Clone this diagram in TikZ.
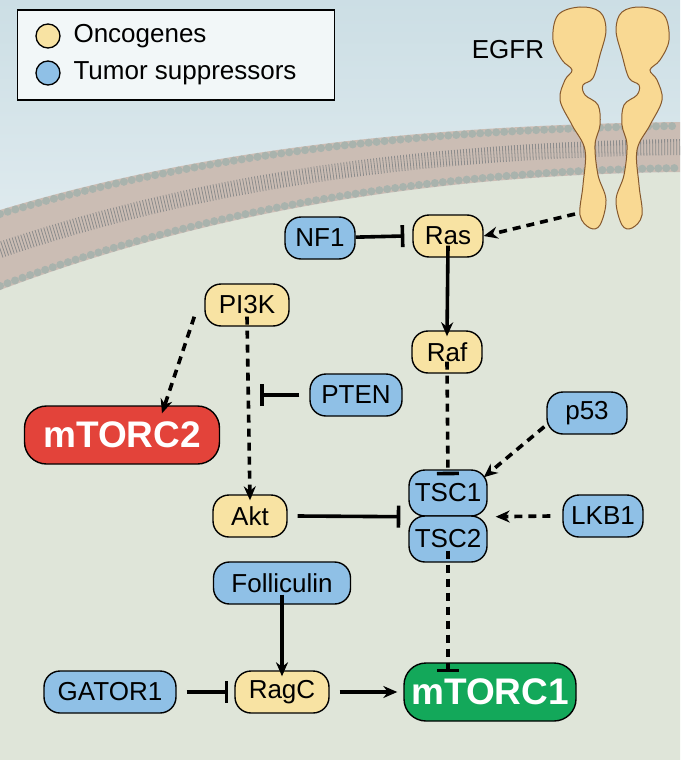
\documentclass[tikz,border=0pt]{standalone}
\usepackage{fontspec}
\setmainfont{Liberation Sans}
\usetikzlibrary{arrows.meta}
\definecolor{onc}{HTML}{F8E3A3}
\definecolor{sup}{HTML}{8FC0E6}
\definecolor{mt2}{HTML}{E3433A}
\definecolor{mt1}{HTML}{13A85A}
\definecolor{cell}{HTML}{DFE5D9}
\definecolor{sky}{HTML}{BFD6DE}
\definecolor{memb}{HTML}{CBBDB4}
\definecolor{bead}{HTML}{A9B3AD}
\begin{document}
\begin{tikzpicture}[x=1pt,y=-1pt,
  box/.style={draw=black,line width=1.4pt,rounded corners=16pt,minimum height=42pt,inner sep=3pt,font=\fontsize{26}{28}\selectfont},
  o/.style={box,fill=onc},
  s/.style={box,fill=sup},
  big/.style={draw=black,line width=1.4pt,rounded corners=22pt,minimum height=58pt,text=white,font=\bfseries\fontsize{37}{39}\selectfont},
  act/.style={line width=3.6pt,-{Stealth[length=14pt,width=12pt]}},
  actd/.style={act,dash pattern=on 8pt off 6pt},
  inh/.style={line width=3.6pt,-{Bar[width=22pt,line width=3.6pt]}},
  inhd/.style={inh,dash pattern=on 8pt off 6pt}]
\useasboundingbox (0,0) rectangle (680,760);
% background
\shade[top color=sky!80!white,bottom color=sky!40!white] (0,0) rectangle (680,300);
\fill[cell] (0,290) .. controls (200,215) and (420,175) .. (680,172) -- (680,760) -- (0,760) -- cycle;
% membrane
\fill[memb] (0,210) .. controls (200,150) and (420,125) .. (680,122) -- (680,172) .. controls (420,175) and (200,215) .. (0,290) -- cycle;
\draw[black!45,dash pattern=on 0.8pt off 2.2pt,line width=16pt] (0,250) .. controls (200,182) and (420,150) .. (680,147);
\draw[bead,line width=8pt,line cap=round,dash pattern=on 0pt off 8pt] (0,214) .. controls (200,154) and (420,129) .. (680,126);
\draw[bead,line width=8pt,line cap=round,dash pattern=on 0pt off 8pt] (0,286) .. controls (200,211) and (420,171) .. (680,168);
% EGFR
\foreach \s/\o in {1/0,-1/1222}{
\begin{scope}[xshift=\o pt,xscale=\s]
\fill[onc!90!orange,draw=brown!70!black,line width=1pt] plot[smooth cycle,tension=0.6] coordinates {(580,7) (600,12) (606,30) (600,55) (593,78) (583,85) (585,95) (598,105) (600,125) (595,145) (598,175) (606,200) (600,225) (590,228) (580,215) (583,185) (585,150) (572,125) (560,100) (565,80) (572,70) (562,60) (553,40) (558,15)};
\end{scope}}
\node[font=\fontsize{26}{28}\selectfont] (egfr) at (508,50) {EGFR};
\coordinate (eg) at (575,214);
% legend
\node[draw=black,line width=1.5pt,fill=white!80!sky,minimum width=317pt,minimum height=90pt] (leg) at (176,55) {};
\node[draw=black,fill=onc,circle,minimum size=24pt,line width=1.3pt] (l1) at (48,36) {};
\node[draw=black,fill=sup,circle,minimum size=24pt,line width=1.3pt] (l2) at (48,73) {};
\node[anchor=west,font=\fontsize{26}{28}\selectfont] (t1) at (70,36) {Oncogenes};
\node[anchor=west,font=\fontsize{26}{28}\selectfont] (t2) at (70,73) {Tumor suppressors};
% nodes
\node[o,minimum width=70pt] (ras) at (448,236) {Ras};
\node[s,minimum width=70pt] (nf1) at (320,238) {NF1};
\node[o,minimum width=84pt] (pi3k) at (247,305) {PI3K};
\node[o,minimum width=70pt] (raf) at (447,352) {Raf};
\node[s,minimum width=92pt] (pten) at (356,395) {PTEN};
\node[big,fill=mt2,minimum width=195pt] (m2) at (122,435) {mTORC2};
\node[s,minimum width=80pt] (p53) at (587,413) {p53};
\node[s,minimum width=78pt,minimum height=46pt] (tsc1) at (448,493) {TSC1};
\node[s,minimum width=78pt,minimum height=46pt] (tsc2) at (448,539) {TSC2};
\node[o,minimum width=74pt] (akt) at (250,516) {Akt};
\node[s,minimum width=80pt] (lkb1) at (603,516) {LKB1};
\node[s,minimum width=137pt] (fol) at (282,583) {Folliculin};
\node[s,minimum width=132pt] (gat) at (110,692) {GATOR1};
\node[o,minimum width=94pt] (ragc) at (282,692) {RagC};
\node[big,fill=mt1,minimum width=172pt] (m1) at (490,692) {mTORC1};
% edges
\draw[actd] (eg) -- (ras.east);
\draw[inh] (nf1) -- ([xshift=-8pt]ras.west);
\draw[act] ([yshift=12pt]ras.south) -- ([yshift=-6pt]raf.north);
\draw[inhd] ([yshift=12pt]raf.south) -- ([yshift=-6pt]tsc1.north);
\draw[actd] ([shift={(-10pt,10pt)}]pi3k.south west) -- ([shift={(40pt,-8pt)}]m2.north);
\draw[actd] ([yshift=10pt]pi3k.south) -- ([yshift=-6pt]akt.north);
\coordinate (pl) at (260,395);
\draw[inh] ([xshift=-10pt]pten.west) -- (pl);
\draw[inh] ([xshift=10pt]akt.east) -- ([xshift=-8pt]tsc1.south west);
\draw[actd] ([shift={(-2pt,8pt)}]p53.south west) -- ([shift={(-4pt,-8pt)}]tsc1.north east);
\draw[actd] ([xshift=-12pt]lkb1.west) -- ([xshift=8pt]tsc1.south east);
\draw[inhd] ([yshift=12pt]tsc2.south) -- ([yshift=-10pt]m1.north -| tsc2.south);
\draw[act] ([yshift=10pt]fol.south) -- ([yshift=-6pt]ragc.north);
\draw[inh] ([xshift=10pt]gat.east) -- ([xshift=-6pt]ragc.west);
\draw[act] ([xshift=10pt]ragc.east) -- ([xshift=-6pt]m1.west);
\end{tikzpicture}
\end{document}
